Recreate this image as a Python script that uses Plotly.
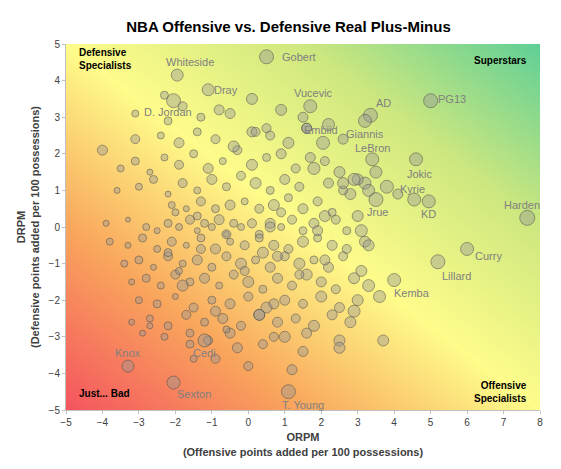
import plotly.graph_objects as go
import numpy as np

# labeled players
lab_names = ["Gobert","Whiteside","Dray","D. Jordan","Vucevic","AD","PG13","Giannis","Embiid","LeBron","Jokic","Kyrie","KD","Harden","Jrue","Curry","Lillard","Kemba","Knox","Cedi","Sexton","T. Young"]
lab_x = [0.5,-1.95,-1.1,-2.05,1.7,3.35,5.0,3.2,2.05,3.4,4.6,4.55,4.95,7.65,3.5,6.0,5.2,4.0,-3.3,-1.2,-2.05,1.1]
lab_y = [4.65,4.15,3.75,3.45,3.3,3.05,3.45,2.9,2.3,1.85,1.85,0.75,0.7,0.25,0.75,-0.6,-0.95,-1.45,-3.8,-3.1,-4.25,-4.5]
lab_s = [14,12,12,14,13,14,14,13,13,13,13,13,13,15,14,13,14,13,12,13,13,14]
lab_tx = [1.4,-1.6,-0.6,-2.2,1.8,3.7,5.6,3.2,2.0,3.4,4.7,4.5,4.95,7.5,3.55,6.6,5.7,4.5,-3.3,-1.2,-1.5,1.5]
lab_ty = [4.65,4.5,3.75,3.15,3.65,3.4,3.5,2.55,2.65,2.15,1.45,1.05,0.35,0.6,0.4,-0.8,-1.35,-1.8,-3.45,-3.45,-4.55,-4.85]

# other players (ORPM, DRPM, size)
ox = [-3.9,-3.3,-2.8,-2.5,-2.2,-1.9,-1.6,-1.4,-1.2,-1.0,-0.8,-0.6,-0.4,-0.2,0.1,0.3,0.6,0.9,1.2,1.5,1.8,2.1,2.4,2.7,3.0,
      -2.1,-1.7,-1.3,-0.9,-0.5,-0.1,0.3,0.7,1.1,1.5,1.9,2.3,2.8,3.2,
      -3.6,-3.0,-2.6,-2.2,-1.8,-1.4,-1.0,-0.6,-0.2,0.2,0.6,1.0,1.4,1.8,2.2,2.6,3.0,3.5,
      -4.0,-3.5,-3.1,-2.7,-2.3,-1.9,-1.5,-1.1,-0.7,-0.3,0.1,0.5,0.9,1.3,1.7,2.1,2.5,2.9,3.8,
      -3.8,-3.3,-2.9,-2.5,-2.1,-1.7,-1.3,-0.9,-0.5,-0.1,0.3,0.7,1.1,1.5,1.9,2.3,2.7,3.2,
      -3.4,-3.0,-2.6,-2.2,-1.8,-1.4,-1.0,-0.6,-0.2,0.2,0.6,1.0,1.4,1.8,2.2,2.6,3.1,
      -3.2,-2.8,-2.4,-2.0,-1.6,-1.2,-0.8,-0.4,0.0,0.4,0.8,1.2,1.6,2.0,2.4,2.9,3.3,
      -3.0,-2.5,-2.0,-1.5,-1.0,-0.5,0.0,0.5,1.0,1.5,2.0,2.5,3.0,3.6,
      -3.2,-2.7,-2.2,-1.7,-1.2,-0.7,-0.2,0.3,0.8,1.3,1.8,2.3,2.8,
      -3.1,-2.4,-1.9,-1.4,-0.9,-0.4,0.1,0.6,1.1,1.6,2.2,2.6,
      -2.9,-2.3,-1.6,-1.1,-0.5,0.4,1.0,1.6,2.5,
      -3.1,-2.2,-1.8,-0.8,0.1,0.5,1.5,2.6,3.1,
      -2.7,-1.6,-0.9,-0.6,-0.3,0.7,1.5,3.7,
      -1.3,-0.5,0.2,0.9,1.6,3.3,
      -1.5,0.0,1.2,2.5,
      -2.0,-1.4,-0.6,0.6,0.9,1.9,
      -2.2,-1.9,-1.3,0.8,1.4,0.4,2.1,
      -0.1,0.7,0.3,-0.9,-1.8,2.9,4.1,3.3,-2.3]
oy = [0.1,0.2,0.0,-0.1,0.1,0.0,0.2,-0.1,0.1,0.0,0.2,-0.2,0.1,0.0,0.1,-0.2,0.1,0.0,0.2,-0.1,0.1,0.3,0.2,-0.1,0.3,
      0.6,0.5,0.7,0.5,0.6,0.7,0.5,0.6,0.8,0.5,0.7,0.4,0.9,1.2,
      1.0,1.1,1.3,0.9,1.2,1.0,1.3,1.1,1.4,1.2,1.0,1.3,1.1,1.6,1.2,1.0,1.3,1.5,
      2.1,1.6,1.8,1.5,1.9,1.7,2.0,1.6,1.8,2.1,1.7,1.9,2.0,1.6,1.9,1.8,1.5,1.3,1.1,
      -0.4,-0.5,-0.3,-0.6,-0.4,-0.5,-0.3,-0.6,-0.4,-0.5,-0.3,-0.5,-0.6,-0.4,-0.3,-0.5,-0.6,-0.4,
      -1.0,-0.9,-1.1,-0.8,-1.0,-0.9,-1.1,-0.8,-1.0,-0.9,-1.1,-0.8,-1.0,-0.9,-1.1,-0.8,-1.2,
      -1.5,-1.4,-1.6,-1.3,-1.5,-1.4,-1.6,-1.3,-1.5,-1.7,-1.4,-1.6,-1.3,-1.5,-1.7,-1.4,-1.6,
      -2.0,-2.1,-1.9,-2.2,-2.0,-2.1,-1.9,-2.2,-2.0,-2.1,-1.9,-2.2,-2.0,-1.9,
      -2.6,-2.5,-2.7,-2.4,-2.6,-2.5,-2.7,-2.4,-2.6,-2.5,-2.7,-2.4,-2.6,
      2.4,2.5,2.3,2.6,2.4,2.2,2.6,2.5,2.3,2.7,2.8,2.4,
      -2.9,-3.0,-2.9,-3.1,-2.9,-3.2,-3.0,-2.9,-3.1,
      3.1,2.9,3.3,3.2,3.5,2.7,3.0,1.2,-0.1,
      -2.7,-3.2,-3.6,-2.8,-3.3,-3.0,-3.4,-3.1,
      3.0,3.1,2.6,3.2,2.7,1.0,
      -3.6,-3.8,-3.9,-3.3,
      0.4,0.3,-0.2,0.0,0.4,-0.1,
      -0.7,-1.2,-0.6,-0.8,-1.3,-0.7,-0.9,
      -1.2,-2.1,-2.4,-2.3,-1.6,-2.3,0.9,-0.5,3.6]
osz = [6,5,7,6,8,7,9,6,8,7,10,6,8,7,9,8,10,7,9,8,10,11,9,8,11,
       7,6,9,8,10,7,9,11,8,10,9,8,11,12,
       6,7,8,6,9,7,10,8,9,11,8,10,9,12,10,9,11,12,
       10,7,8,6,7,9,8,10,7,9,11,8,10,9,10,9,11,12,13,
       7,6,8,7,9,6,8,10,7,9,8,10,9,11,8,10,9,11,
       7,8,6,9,7,10,8,9,11,8,10,9,11,8,10,9,11,
       6,8,7,9,8,10,7,9,11,8,10,9,11,10,9,11,12,
       7,8,6,9,8,10,9,11,10,9,11,10,11,12,
       6,7,8,9,8,10,9,11,10,9,11,10,11,
       9,7,10,8,9,11,10,9,11,10,12,10,
       6,7,8,9,10,9,11,10,11,
       7,8,9,10,11,9,10,11,12,
       6,8,9,7,10,9,10,11,
       8,10,9,11,10,12,
       7,9,10,11,
       7,8,9,10,9,10,
       8,7,9,10,9,11,10,
       9,10,11,10,11,12,10,11,8]

xticks = list(range(-5, 9))
yticks = list(range(-5, 6))

fig = go.Figure()
gx = np.linspace(-5, 8, 80)
gy = np.linspace(-5, 5, 60)
Z = [[a / 13 * 2 + b / 10 * 2 for a in gx] for b in gy]
fig.add_trace(go.Heatmap(x=gx, y=gy, z=Z, zsmooth="best", showscale=False, hoverinfo="skip",
    colorscale=[[0, "#f4545f"], [0.25, "#f9a65c"], [0.5, "#fefc8a"], [0.75, "#cde77f"], [1, "#5fcf96"]]))
mk = dict(color="rgba(150,150,150,0.6)", line=dict(color="rgba(80,80,80,0.8)", width=1))
fig.add_trace(go.Scatter(x=ox, y=oy, mode="markers", marker=dict(size=osz, **mk)))
fig.add_trace(go.Scatter(x=lab_x, y=lab_y, mode="markers", marker=dict(size=lab_s, **mk)))
for n, tx, ty in zip(lab_names, lab_tx, lab_ty):
    fig.add_annotation(x=tx, y=ty, text=n, showarrow=False, font=dict(size=11, color="#808080"))
corner = [("Defensive<br>Specialists", -4.7, 4.6, "left"), ("Superstars", 7.7, 4.55, "right"),
          ("Just... Bad", -4.7, -4.55, "left"), ("Offensive<br>Specialists", 7.7, -4.5, "right")]
for t, x, y, al in corner:
    fig.add_annotation(x=x, y=y, text="<b>" + t + "</b>", showarrow=False, xanchor=al, align=al,
                       font=dict(size=10, color="black"))
fig.update_layout(
    width=561, height=469, showlegend=False, plot_bgcolor="white", paper_bgcolor="white",
    font=dict(family="Liberation Sans, Arial", color="#404040"),
    title=dict(text="<b>NBA Offensive vs. Defensive Real Plus-Minus</b>", x=0.5, xanchor="center", y=0.972, font=dict(size=15, color="black")),
    margin=dict(l=58, r=29, t=36, b=67, autoexpand=False),
    xaxis=dict(range=[-5, 8], tickvals=xticks, showgrid=False, zeroline=True, zerolinecolor="#404040", zerolinewidth=1,
               showline=True, linecolor="#bfbfbf", ticks="outside", ticklen=3, tickcolor="#bfbfbf", tickfont=dict(size=10),
               automargin=False,
               title=dict(text="<b>ORPM<br>(Offensive points added per 100 possessions)</b>", font=dict(size=11), standoff=6)),
    yaxis=dict(range=[-5, 5], tickvals=yticks, showgrid=False, zeroline=True, zerolinecolor="#404040", zerolinewidth=1,
               showline=True, linecolor="#bfbfbf", ticks="outside", ticklen=3, tickcolor="#bfbfbf", tickfont=dict(size=10),
               automargin=False,
               title=dict(text="<b>DRPM<br>(Defensive points added per 100 possessions)</b>", font=dict(size=11), standoff=6)),
)
fig.write_html("out.html")
